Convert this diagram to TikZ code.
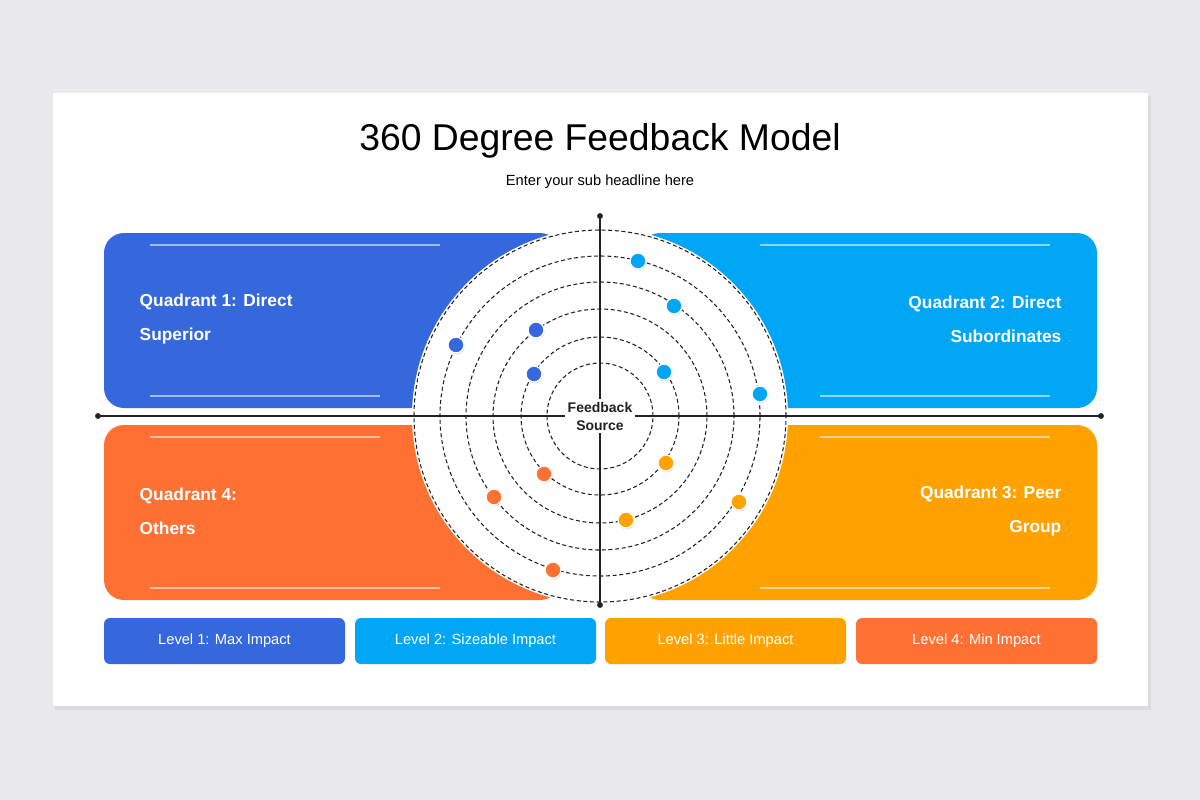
\documentclass[tikz,border=0pt]{standalone}
\usepackage{fontspec}
\setmainfont{Liberation Sans}
\usetikzlibrary{shadows}
\definecolor{bg}{HTML}{E9E8EA}
\definecolor{qb}{HTML}{3568DC}
\definecolor{qc}{HTML}{00A6F6}
\definecolor{qo}{HTML}{FF7033}
\definecolor{qy}{HTML}{FFA200}
\definecolor{ink}{HTML}{222222}
\begin{document}
\begin{tikzpicture}[x=0.75pt,y=-0.75pt,
  quad/.style={rounded corners=20pt*0.75},
  qlab/.style={text=white,font=\bfseries\fontsize{13}{25.5}\selectfont},
  lvl/.style={rounded corners=4.5,minimum width=241*0.75pt,minimum height=46*0.75pt,inner sep=0pt,text=white,font=\fontsize{11}{13}\selectfont},
  ring/.style={dashed,ink,line width=0.8pt,dash pattern=on 3pt off 2pt},
  dot/.style={circle,draw=white,line width=1pt,minimum size=16*0.75pt,inner sep=0pt,drop shadow={opacity=0.25,shadow xshift=0.5pt,shadow yshift=-1pt}},
  hl/.style={white,opacity=0.55,line width=1.5pt}]
\fill[bg] (0,0) rectangle (1200,800);
\useasboundingbox (0,0) rectangle (1200,800);
\fill[black,opacity=0.06] (55,96) rectangle (1151,710);
\fill[white] (53,93) rectangle (1148,706);
\node (title) at (600,141) {\fontsize{28}{32}\selectfont 360 Degree Feedback Model};
\node (sub) at (600,182) {\fontsize{11}{13}\selectfont Enter your sub headline here};
% quadrants
\fill[qb,quad] (104,233) rectangle (560,408);
\fill[qc,quad] (640,233) rectangle (1097,408);
\fill[qo,quad] (104,425) rectangle (560,600);
\fill[qy,quad] (640,425) rectangle (1097,600);
\draw[hl] (150,245) -- (440,245); \draw[hl] (150,396) -- (380,396);
\draw[hl] (760,245) -- (1050,245); \draw[hl] (820,396) -- (1050,396);
\draw[hl] (150,437) -- (380,437); \draw[hl] (150,588) -- (440,588);
\draw[hl] (820,437) -- (1050,437); \draw[hl] (760,588) -- (1050,588);
\node[qlab,align=left,anchor=west] (q1) at (135,319) {Quadrant 1: Direct\\Superior};
\node[qlab,align=right,anchor=east] (q2) at (1066,319) {Quadrant 2: Direct\\Subordinates};
\node[qlab,align=left,anchor=west] (q4) at (135,511) {Quadrant 4:\\Others};
\node[qlab,align=right,anchor=east] (q3) at (1066,511) {Quadrant 3: Peer\\Group};
% circle
\fill[white] (600,416) circle (188*0.75pt);
\foreach \r in {186,160,134,107,79,53} \draw[ring] (600,416) circle (\r*0.75pt);
\coordinate (L) at (98,416); \coordinate (R) at (1101,416);
\coordinate (T) at (600,216); \coordinate (B) at (600,605);
\draw[ink,line width=0.9pt] (L) -- (R);
\draw[ink,line width=0.9pt] (T) -- (B);
\foreach \p in {L,R,T,B} \fill[ink] (\p) circle (2.2pt);
\node[fill=white,inner sep=2pt,align=center,text=ink,font=\bfseries\fontsize{10.5}{13.5}\selectfont] (fs) at (600,416) {Feedback\\Source};
% dots
\foreach \x/\y/\c [count=\i] in {456/345/qb,536/330/qb,534/374/qb,638/261/qc,674/306/qc,664/372/qc,760/394/qc,544/474/qo,494/497/qo,553/570/qo,666/463/qy,739/502/qy,626/520/qy}
  \node[dot,fill=\c] (d\i) at (\x,\y) {};
% legend
\node[lvl,fill=qb] (l1) at (224.5,641) {Level 1: Max Impact};
\node[lvl,fill=qc] (l2) at (475.5,641) {Level 2: Sizeable Impact};
\node[lvl,fill=qy] (l3) at (725.5,641) {Level 3: Little Impact};
\node[lvl,fill=qo] (l4) at (976.5,641) {Level 4: Min Impact};
\end{tikzpicture}
\end{document}
